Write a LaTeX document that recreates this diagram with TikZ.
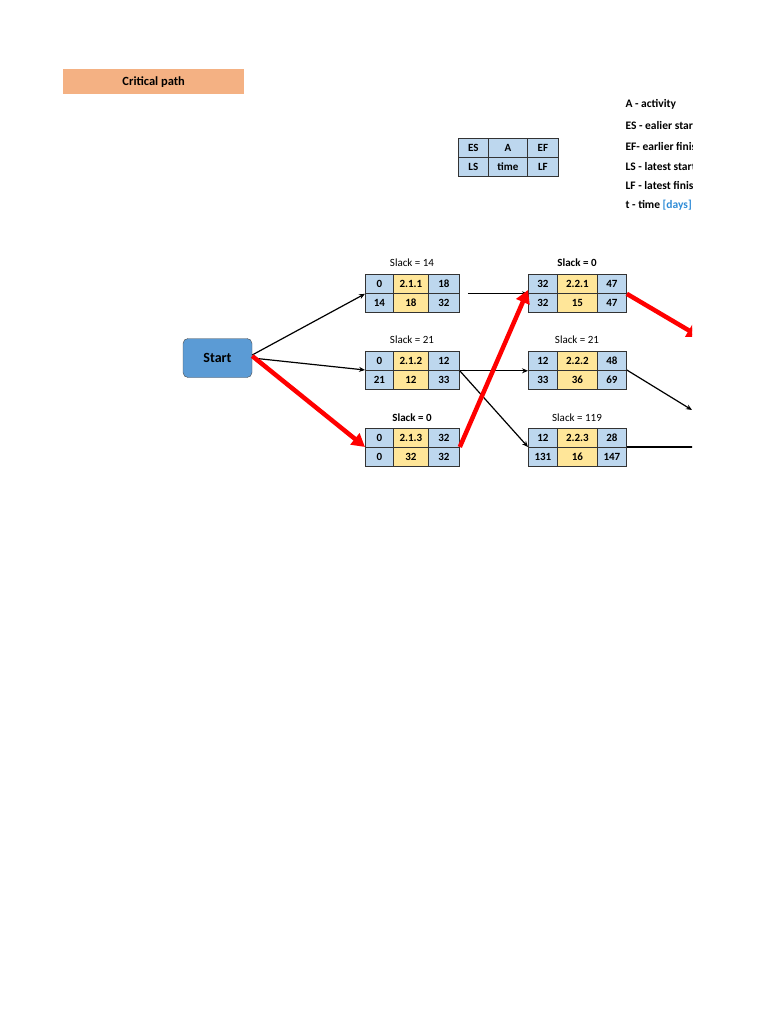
\documentclass[tikz,border=0pt]{standalone}
\usepackage{fontspec}
\setmainfont{Carlito}
\usetikzlibrary{arrows.meta}
\definecolor{cblue}{HTML}{BDD7EE}
\definecolor{cyel}{HTML}{FFE699}
\definecolor{corange}{HTML}{F4B183}
\definecolor{cstart}{HTML}{5B9BD5}
\definecolor{clink}{HTML}{2E8BD6}
\tikzset{
  cell/.style={draw=black!80,line width=0.8pt,minimum height=19pt,inner sep=0pt,anchor=north west,font=\bfseries\fontsize{11}{12}\selectfont},
  cb/.style={cell,fill=cblue}, cy/.style={cell,fill=cyel},
  arr/.style={-{Stealth[length=6pt,width=5pt]},line width=1.2pt},
  crit/.style={-{Triangle[length=13pt,width=14pt]},line width=4.5pt,red},
  slack/.style={font=\fontsize{11}{12}\selectfont},
  leg/.style={anchor=west,font=\bfseries\fontsize{11.5}{12}\selectfont}
}
% \act name (x,y) ES A EF LS T LF ; widths \wa \wb \wc
\def\act#1(#2,#3)#4#5#6#7#8#9{%
  \node[cb,minimum width=\wa pt] (#1es) at (#2,#3) {#4};
  \node[cy,minimum width=\wb pt] (#1a) at (#2+\wa,#3) {#5};
  \node[cb,minimum width=\wc pt] (#1ef) at (#2+\wa+\wb,#3) {#6};
  \node[cb,minimum width=\wa pt] (#1ls) at (#2,#3+19) {#7};
  \node[cy,minimum width=\wb pt] (#1t) at (#2+\wa,#3+19) {#8};
  \node[cb,minimum width=\wc pt] (#1lf) at (#2+\wa+\wb,#3+19) {#9};
}
\begin{document}
\begin{tikzpicture}[x=1pt,y=-1pt]
\useasboundingbox (0,0) rectangle (768,1024);
\begin{scope}
\clip (0,0) rectangle (692,1024);
% title
\node[fill=corange,minimum width=181pt,minimum height=25pt,anchor=north west,font=\bfseries\fontsize{12.5}{14}\selectfont] (title) at (63,69) {Critical path};
% legend table
\def\wa{30}\def\wb{39}\def\wc{31}
\node[cb,minimum width=30pt,font=\bfseries\fontsize{11}{12}\selectfont] (les) at (458,138) {ES};
\node[cb,minimum width=39pt] (la) at (488,138) {A};
\node[cb,minimum width=31pt] (lef) at (527,138) {EF};
\node[cb,minimum width=30pt] (lls) at (458,157) {LS};
\node[cb,minimum width=39pt,font=\fontsize{11}{12}\selectfont\bfseries] (lt) at (488,157) {time};
\node[cb,minimum width=31pt] (llf) at (527,157) {LF};
% legend text
\node[leg] (t1) at (622,104) {A - activity};
\node[leg] (t2) at (622,126) {ES - ealier start};
\node[leg] (t3) at (622,147) {EF- earlier finish};
\node[leg] (t4) at (622,167) {LS - latest start};
\node[leg] (t5) at (622,186) {LF - latest finish};
\node[leg] (t6) at (622,205) {t - time \textcolor{clink}{[days]}};
% start
\node[draw=black!70,fill=cstart,rounded corners=5pt,minimum width=69pt,minimum height=39pt,font=\bfseries\fontsize{14}{16}\selectfont] (start) at (217.5,358) {Start};
% activities
\def\wa{28}\def\wb{35}\def\wc{31}
\act{a}(365,274){0}{2.1.1}{18}{14}{18}{32}
\act{b}(365,351){0}{2.1.2}{12}{21}{12}{33}
\act{c}(365,428){0}{2.1.3}{32}{0}{32}{32}
\def\wa{29}\def\wb{40}\def\wc{29}
\act{d}(528,274){32}{2.2.1}{47}{32}{15}{47}
\act{e}(528,351){12}{2.2.2}{48}{33}{36}{69}
\act{f}(528,428){12}{2.2.3}{28}{131}{16}{147}
% slack labels
\node[slack] (sa) at (412,263) {Slack = 14};
\node[slack] (sb) at (412,340) {Slack = 21};
\node[slack,font=\bfseries\fontsize{11}{12}\selectfont] (sc) at (412,418) {Slack = 0};
\node[slack,font=\bfseries\fontsize{11}{12}\selectfont] (sd) at (577,263) {Slack = 0};
\node[slack] (se) at (577,340) {Slack = 21};
\node[slack] (sf) at (577,418) {Slack = 119};
% free ends
\coordinate (o1) at (700,337);
\coordinate (o2) at (692,410);
\coordinate (o3) at (700,447);
% connectors
\draw[arr] (start.east) ++(0,-3) -- (aes.south west);
\draw[arr] (start.east) -- (bls.north west);
\draw[arr] ([xshift=8pt]aef.south east) -- (des.south west);
\draw[arr] (bef.south east) -- (ees.south west);
\draw[arr] (bef.south east) -- (fls.north west);
\draw[arr] (elf.north east) -- (o2);
\draw[line width=1.2pt] (flf.north east) -- (o3);
\draw[crit] ([yshift=2pt]start.east) -- (cls.north west);
\draw[crit] (clf.north east) -- ([yshift=3pt]dls.north west);
\draw[crit] (def.south east) -- (o1);
\end{scope}
\end{tikzpicture}
\end{document}
